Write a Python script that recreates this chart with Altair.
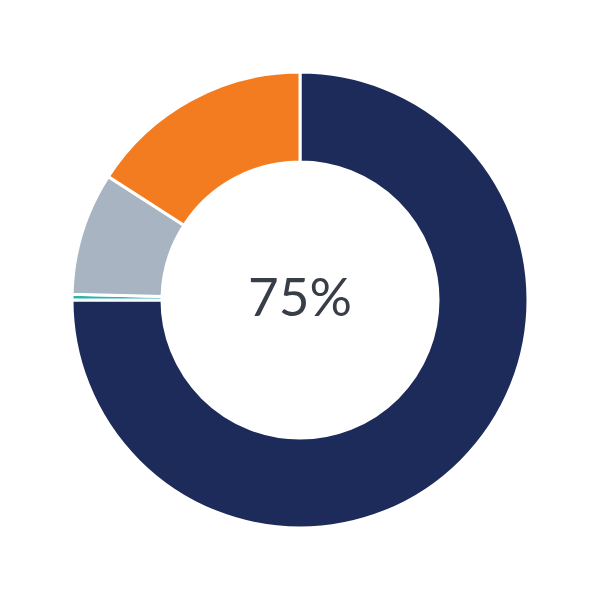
import altair as alt
import pandas as pd

categories = ["A", "B", "C", "D"]
values = [75.0, 0.4, 8.7, 15.9]
colors = ["#1c2b5a", "#2bb3ad", "#a9b4c2", "#f37c20"]
center_label = "75%"

df = pd.DataFrame({"cat": categories, "val": values, "ord": list(range(len(categories)))})

arc = alt.Chart(df).mark_arc(outerRadius=228, innerRadius=138, stroke="white", strokeWidth=3).encode(
    theta=alt.Theta("val:Q", stack=True),
    color=alt.Color("cat:N", scale=alt.Scale(domain=categories, range=colors), legend=None),
    order=alt.Order("ord:Q"),
)

text = alt.Chart(pd.DataFrame({"t": [center_label]})).mark_text(
    font="Lato", fontSize=53, color="#373e47", baseline="alphabetic", align="center"
).encode(text="t:N", x=alt.value(287), y=alt.value(303))

chart = (arc + text).properties(
    width=584, height=584, autosize=alt.AutoSizeParams(type="fit", contains="padding")
).configure_view(stroke=None)

chart.save("out.html", embed_options={"renderer": "svg", "actions": False})
